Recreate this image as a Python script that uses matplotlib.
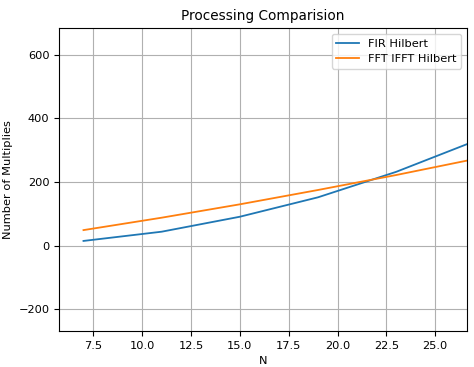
import matplotlib
matplotlib.use("Agg")
from matplotlib import pyplot as plt

# values
N = [7, 11, 15, 19, 23, 27]
fir_mults = [15, 44, 91, 152, 232, 328]
fft_mults = [49, 88, 130, 175, 222, 272]

plt.rcParams['font.size'] = 8.2

fig = plt.figure(figsize=(4.74, 3.67), dpi=100)
ax = fig.add_axes([0.125, 0.098, 0.86, 0.825])

ax.plot(N, fir_mults, label='FIR Hilbert', linewidth=1.3)
ax.plot(N, fft_mults, label='FFT IFFT Hilbert', linewidth=1.3)
ax.set_xlim(5.76, 26.62)
ax.set_ylim(-268, 683)
ax.set_title('Processing Comparision', fontsize=9.8)
ax.set_xlabel('N')
ax.set_ylabel('Number of Multiplies')
ax.grid(True)
ax.legend(loc='upper right')

fig.savefig('out.png', dpi=100)
